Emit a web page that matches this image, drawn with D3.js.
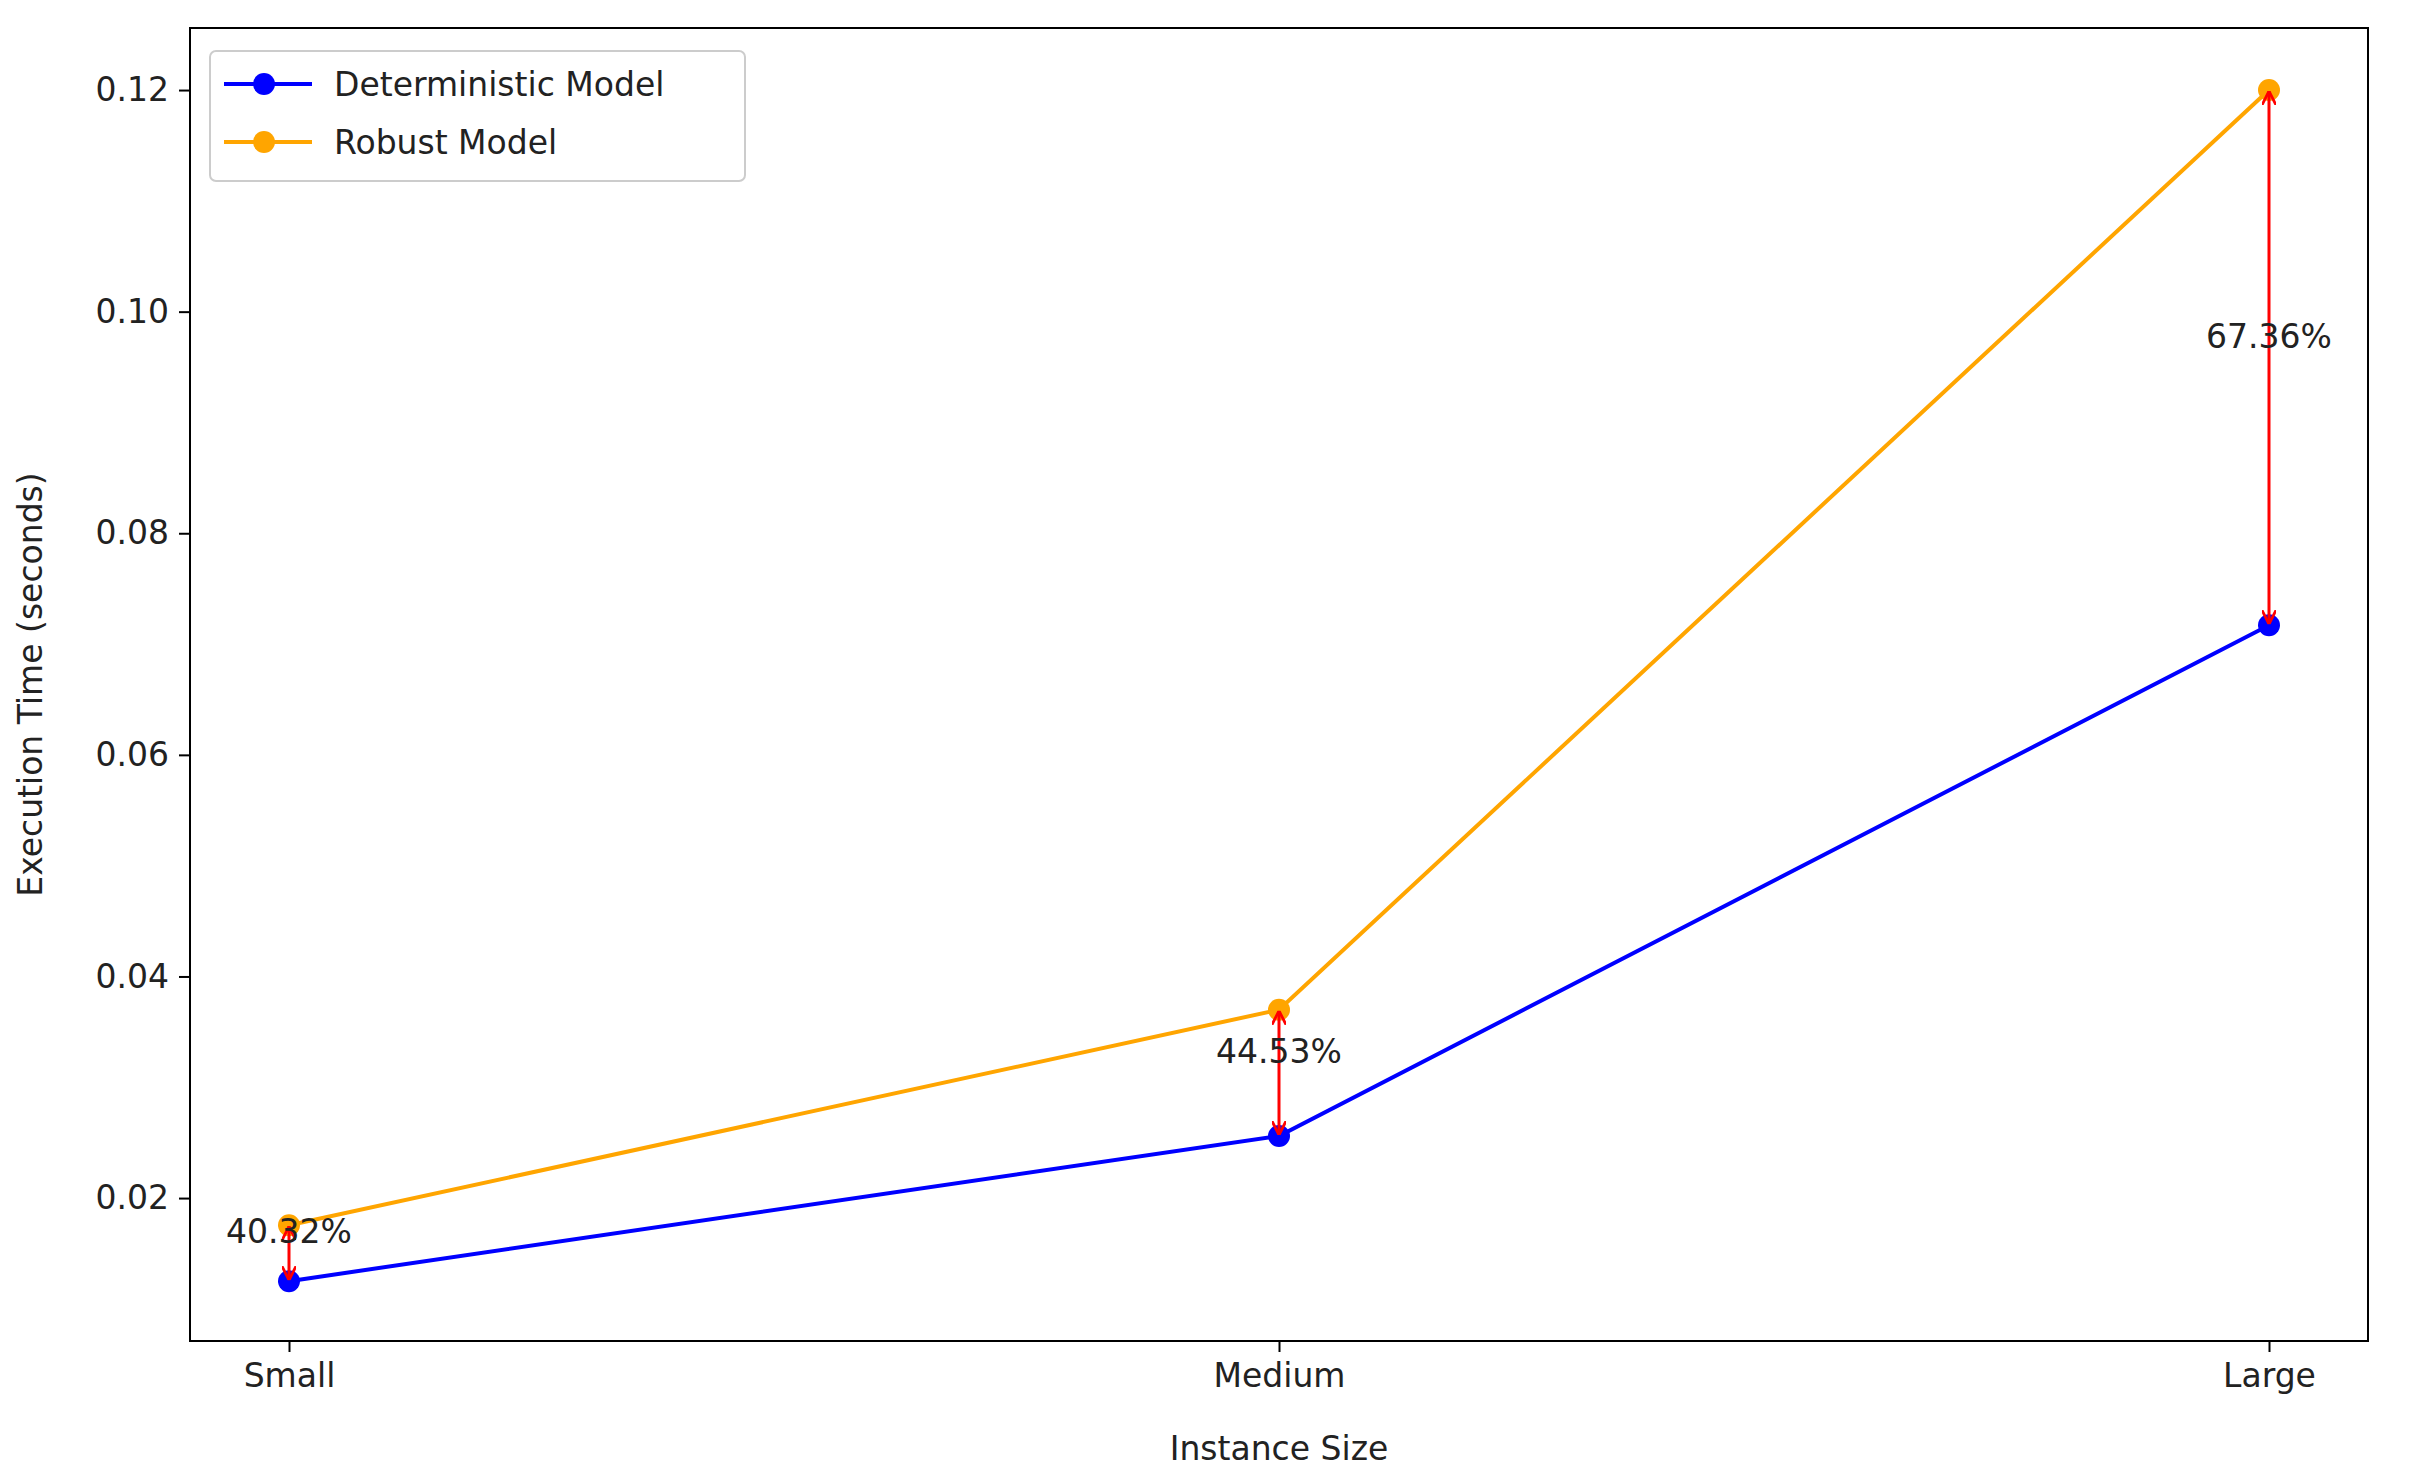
<!DOCTYPE html>
<html>
<head>
<meta charset="utf-8">
<script src="https://cdn.jsdelivr.net/npm/d3@7"></script>
<style>
  body { margin: 0; background: #fff; }
  text { font-family: "DejaVu Sans", sans-serif; fill: #222; }
</style>
</head>
<body>
<script>
const sizes = ['Small', 'Medium', 'Large'];
const deterministic = [0.0125, 0.0256, 0.0717];
const robust = [0.01754, 0.0370, 0.1200];
const yTicks = [0.02, 0.04, 0.06, 0.08, 0.10, 0.12];

const W = 2416, H = 1477;
const m = { left: 190, right: 2368, top: 28, bottom: 1341 };
const fs = 33;

const svg = d3.select('body').append('svg').attr('width', W).attr('height', H);

const x = d3.scaleLinear().domain([-0.1, 2.1]).range([m.left, m.right]);
const y = d3.scaleLinear().domain([0.0071, 0.1256]).range([m.bottom, m.top]);

const defs = svg.append('defs');
defs.append('marker').attr('id', 'arr').attr('viewBox', '0 0 10 10')
  .attr('refX', 10).attr('refY', 5).attr('markerWidth', 14).attr('markerHeight', 14)
  .attr('markerUnits', 'userSpaceOnUse').attr('orient', 'auto-start-reverse')
  .append('path').attr('d', 'M0,0 L10,5 L0,10').attr('fill', 'none')
  .attr('stroke', 'red').attr('stroke-width', 2);

// axes
const xAxis = svg.append('g').attr('transform', `translate(0,${m.bottom})`)
  .call(d3.axisBottom(x).tickValues([0, 1, 2]).tickFormat(i => sizes[i]).tickSize(11).tickPadding(10));
const yAxis = svg.append('g').attr('transform', `translate(${m.left},0)`)
  .call(d3.axisLeft(y).tickValues(yTicks).tickFormat(d3.format('.2f')).tickSize(11).tickPadding(10));
[xAxis, yAxis].forEach(a => {
  a.select('.domain').remove();
  a.selectAll('line').attr('stroke', '#000').attr('stroke-width', 2);
  a.selectAll('text').attr('font-size', fs).attr('font-family', '"DejaVu Sans", sans-serif').attr('fill', '#222');
});
xAxis.selectAll('text').attr('dy', '0.75em');
svg.append('rect').attr('x', m.left).attr('y', m.top)
  .attr('width', m.right - m.left).attr('height', m.bottom - m.top)
  .attr('fill', 'none').attr('stroke', '#000').attr('stroke-width', 2);

svg.append('text').attr('x', (m.left + m.right) / 2).attr('y', 1460)
  .attr('text-anchor', 'middle').attr('font-size', fs).text('Instance Size');
svg.append('text').attr('transform', `translate(42,${(m.top + m.bottom) / 2}) rotate(-90)`)
  .attr('text-anchor', 'middle').attr('font-size', fs).text('Execution Time (seconds)');

// series
const series = [
  { name: 'Deterministic Model', values: deterministic, color: 'blue' },
  { name: 'Robust Model', values: robust, color: 'orange' }
];
const line = d3.line().x((d, i) => x(i)).y(d => y(d));
series.forEach(s => {
  svg.append('path').attr('d', line(s.values)).attr('fill', 'none')
    .attr('stroke', s.color).attr('stroke-width', 4);
  svg.selectAll(null).data(s.values).enter().append('circle')
    .attr('cx', (d, i) => x(i)).attr('cy', d => y(d)).attr('r', 11).attr('fill', s.color);
});

// annotations
sizes.forEach((c, i) => {
  const y0 = y(deterministic[i]), y1 = y(robust[i]);
  svg.append('line').attr('x1', x(i)).attr('x2', x(i)).attr('y1', y0 - 1).attr('y2', y1 + 1)
    .attr('stroke', 'red').attr('stroke-width', 3)
    .attr('marker-start', 'url(#arr)').attr('marker-end', 'url(#arr)');
  const pct = (robust[i] - deterministic[i]) / deterministic[i] * 100;
  svg.append('text').attr('x', x(i)).attr('y', (y0 + y1) / 2 - 10)
    .attr('text-anchor', 'middle').attr('font-size', fs).text(pct.toFixed(2) + '%');
});

// legend
const lg = svg.append('g').attr('transform', 'translate(210,51)');
lg.append('rect').attr('width', 535).attr('height', 130).attr('rx', 6)
  .attr('fill', '#fff').attr('stroke', '#ccc').attr('stroke-width', 2);
series.forEach((s, i) => {
  const ly = 33 + i * 58;
  lg.append('line').attr('x1', 14).attr('x2', 102).attr('y1', ly).attr('y2', ly)
    .attr('stroke', s.color).attr('stroke-width', 4);
  lg.append('circle').attr('cx', 54).attr('cy', ly).attr('r', 11).attr('fill', s.color);
  lg.append('text').attr('x', 124).attr('y', ly).attr('dy', '0.35em')
    .attr('font-size', fs).text(s.name);
});
</script>
</body>
</html>
